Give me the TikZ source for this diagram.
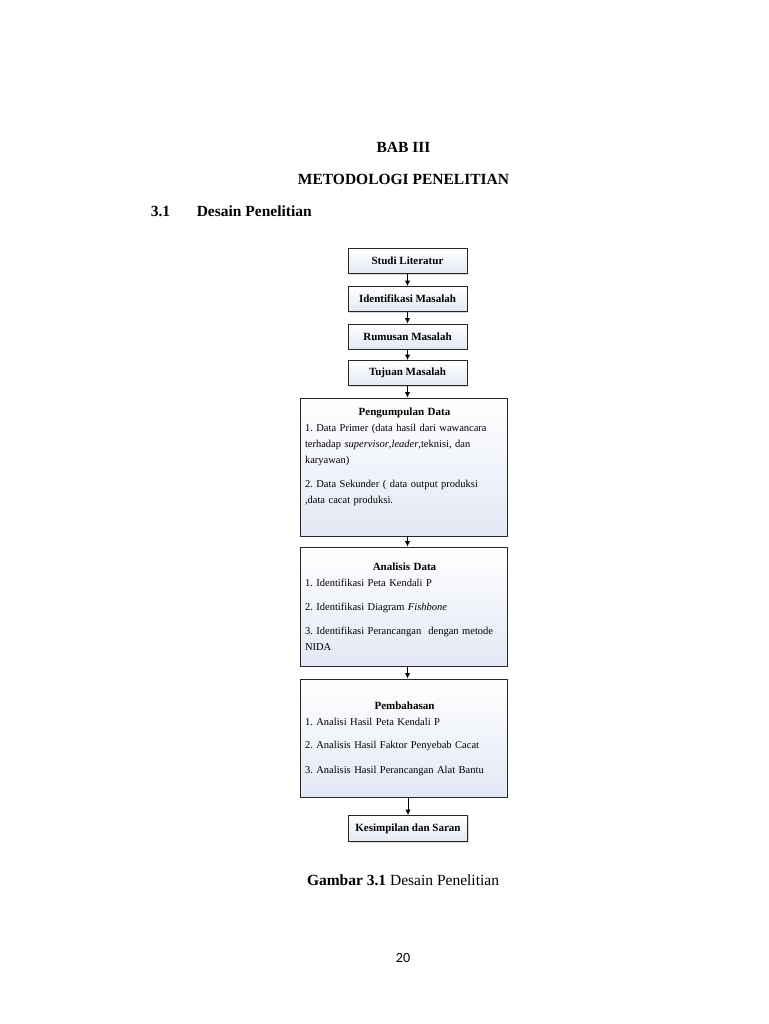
\documentclass[tikz,border=0pt]{standalone}
\usepackage{fontspec}
\setmainfont{Liberation Serif}
\newfontfamily\pagenumfont{Carlito}
\usepackage{xcolor}
\usetikzlibrary{arrows.meta,shadows,positioning}
\setlength\parindent{0pt}
\frenchspacing
\definecolor{boxbot}{RGB}{226,232,244}
\newcommand\boxtitle[1]{\centerline{\fontsize{11}{16}\selectfont\bfseries #1}}
\tikzset{
  every picture/.style={line join=round, line cap=round, >={Latex[length=5.5pt,width=5.5pt]}},
  smallbox/.style={draw=black!85, line width=0.9pt, top color=white, bottom color=boxbot,
    minimum width=119pt, minimum height=25pt, inner sep=0pt,
    font=\fontsize{11}{13}\selectfont\bfseries,
    drop shadow={shadow xshift=1pt,shadow yshift=-1pt,opacity=0.3}},
  bigbox/.style={smallbox, minimum width=207pt},
  boxtext/.style={text width=199pt, align=left, inner sep=0pt, font=\fontsize{10.5}{16}\selectfont\frenchspacing},
  heading/.style={anchor=base, font=\fontsize{15.5}{18}\selectfont\bfseries},
}

\begin{document}
\begin{tikzpicture}[x=1pt,y=-1pt,->,line width=0.9pt]
\useasboundingbox(0,0) rectangle (768,1024);
\fill[white](0,0) rectangle (768,1024);
\node[heading](bab) at (403.5,153){BAB III};
\node[heading](judul) at (403.5,185){METODOLOGI PENELITIAN};
\node[heading,anchor=base west](subno) at (147,217){3.1};
\node[heading,anchor=base west](subjudul) at (193,217){Desain Penelitian};
\node[smallbox](studi) at (407.5,261){Studi Literatur};
\node[smallbox](ident) at (407.5,299){Identifikasi Masalah};
\node[smallbox](rumusan) at (407.5,336.5){Rumusan Masalah};
\node[smallbox](tujuan) at (407.5,373){Tujuan Masalah};
\node[bigbox,minimum height=138pt](kumpul) at (403.5,467){};
\node[bigbox,minimum height=119pt](analisis) at (403.5,606.5){};
\node[bigbox,minimum height=118pt](bahas) at (403.5,738){};
\node[smallbox,minimum height=26pt](simpul) at (408,828.5){Kesimpilan dan Saran};
\node[boxtext,below=10pt of kumpul.north,xshift=1pt](kumpultxt){\boxtitle{Pengumpulan Data}
1. Data Primer (data hasil dari wawancara\\
terhadap \textit{supervisor},\textit{leader},teknisi, dan\\
karyawan)\\[8pt]
2. Data Sekunder ( data output produksi\\
,data cacat produksi.};
\node[boxtext,below=16pt of analisis.north,xshift=1pt](analisistxt){\boxtitle{Analisis Data}
1. Identifikasi Peta Kendali P\\[8pt]
2. Identifikasi Diagram \textit{Fishbone}\\[8pt]
3. Identifikasi Perancangan\ \ dengan metode\\
NIDA};
\node[boxtext,below=23pt of bahas.north,xshift=1pt](bahastxt){\boxtitle{Pembahasan}
1. Analisi Hasil Peta Kendali P\\[7pt]
2. Analisis Hasil Faktor Penyebab Cacat\\[9pt]
3. Analisis Hasil Perancangan Alat Bantu};
\draw(studi)--(ident);
\draw(ident)--(rumusan);
\draw(rumusan)--(tujuan);
\draw(tujuan)--(tujuan|-kumpul.north);
\draw(kumpul.south-|studi)--(analisis.north-|studi);
\draw(analisis.south-|studi)--(bahas.north-|studi);
\draw(bahas.south-|simpul)--(simpul);
\node[anchor=base,font=\fontsize{15.5}{18}\selectfont](caption) at (403,885){\textbf{Gambar 3.1} Desain Penelitian};
\node[anchor=base,font=\pagenumfont\fontsize{14}{16}\selectfont](halaman) at (403,962){20};
\end{tikzpicture}
\end{document}
